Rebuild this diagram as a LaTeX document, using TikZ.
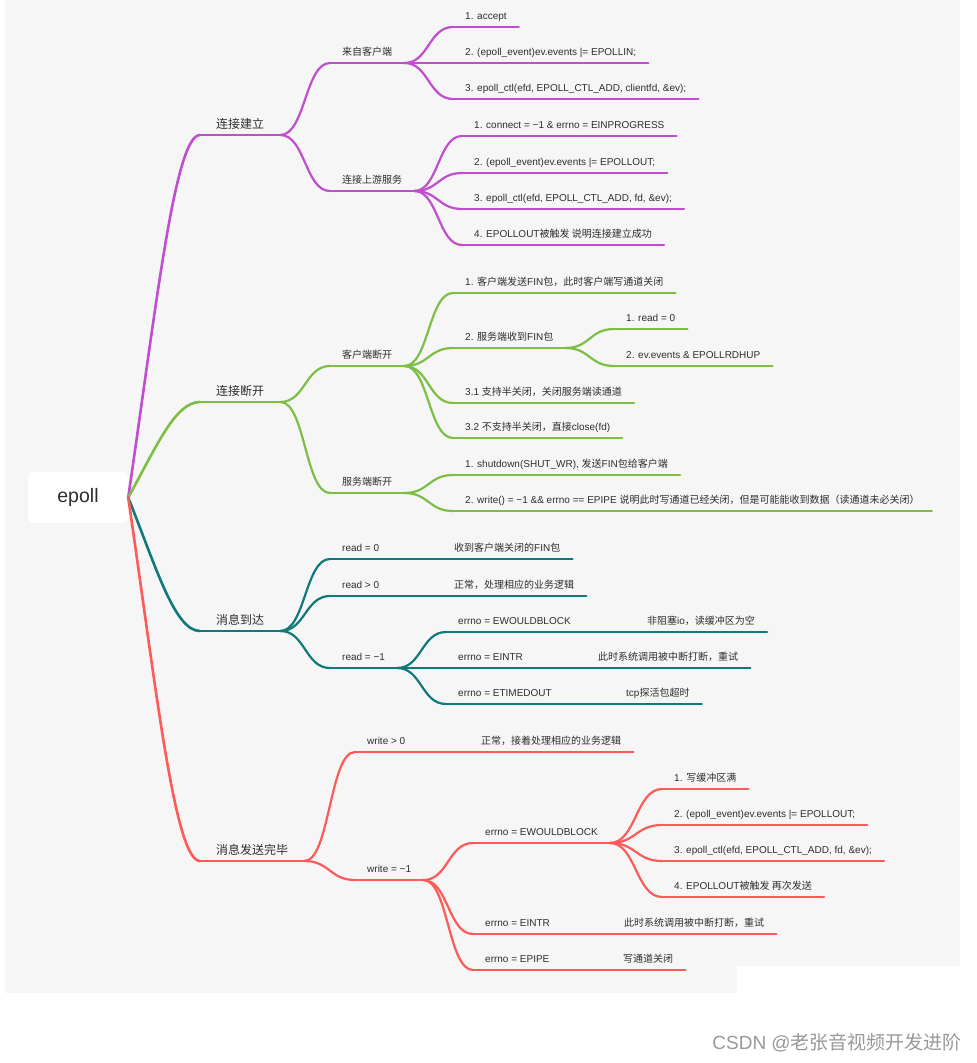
\documentclass[tikz,border=0pt]{standalone}
\usepackage{fontspec}
\setmainfont{Liberation Sans}
\newfontfamily\cjk{Noto Sans CJK SC}
\newcommand{\zh}[1]{{\cjk #1}}
\usetikzlibrary{calc}
\definecolor{bgc}{HTML}{F6F6F6}
\definecolor{txt}{HTML}{2E2E2E}
\definecolor{cpu}{RGB}{192,78,207}
\definecolor{cgr}{RGB}{125,190,69}
\definecolor{cte}{RGB}{16,121,122}
\definecolor{cre}{RGB}{255,90,90}
\definecolor{wmc}{HTML}{999999}
\newcommand{\rconn}[3]{\draw[#1] let \p1=(#2), \p2=(#3) in (\p1) .. controls ({\x1+0.39*(\x2-\x1)},{\y1+0.525*(\y2-\y1)}) and ({\x2-0.35*(\x2-\x1)},\y2) .. (\p2);}
\newcommand{\conn}[3]{\draw[#1] let \p1=(#2), \p2=(#3) in (\p1) .. controls ({0.5*\x1+0.5*\x2},\y1) and ({0.5*\x1+0.5*\x2},\y2) .. (\p2);}
\begin{document}
\begin{tikzpicture}[x=1pt,y=-1pt,
  lf/.style={text=txt, inner xsep=12pt, inner ysep=4.5pt, text height=8pt, text depth=2.5pt, anchor=south west, font=\fontsize{10}{12}\selectfont},
  lone/.style={text=txt, inner xsep=16pt, inner ysep=3pt, text height=10pt, text depth=3pt, anchor=south west, font=\fontsize{12}{14}\selectfont},
  rootbox/.style={fill=white, rounded corners=6pt, minimum width=100pt, minimum height=51pt, text=txt, font=\fontsize{19.5}{22}\selectfont},
  lk/.style={line width=2.2pt, line cap=round, draw=#1},
  rk/.style={line width=2.6pt, line cap=round, draw=#1},
]
\useasboundingbox (0,0) rectangle (977,1063);
\fill[white] (0,0) rectangle (977,1063);
\fill[bgc] (5,0) rectangle (960,993);
\fill[white] (737,966) rectangle (977,1063);

% root
\node[rootbox] (epoll) at (78,497.5) {epoll};

% purple
\node[lone] (est) at (200,135) {\zh{连接建立}};
\node[lf] (fc) at (330,63) {\zh{来自客户端}};
\node[lf] (up) at (330,191) {\zh{连接上游服务}};
\node[lf] (fc1) at (453,27) {1. accept};
\node[lf] (fc2) at (453,63) {2. (epoll\_event)ev.events |= EPOLLIN;};
\node[lf] (fc3) at (453,99) {3. epoll\_ctl(efd, EPOLL\_CTL\_ADD, clientfd, \&ev);};
\node[lf] (up1) at (462,136) {1. connect = −1 \& errno = EINPROGRESS};
\node[lf] (up2) at (462,173) {2. (epoll\_event)ev.events |= EPOLLOUT;};
\node[lf] (up3) at (462,209) {3. epoll\_ctl(efd, EPOLL\_CTL\_ADD, fd, \&ev);};
\node[lf] (up4) at (462,245) {4. EPOLLOUT\zh{被触发 说明连接建立成功}};

% green
\node[lone] (dis) at (200,402) {\zh{连接断开}};
\node[lf] (cd) at (330,366) {\zh{客户端断开}};
\node[lf] (sd) at (330,493) {\zh{服务端断开}};
\node[lf] (cd1) at (453,293) {1. \zh{客户端发送}FIN\zh{包，此时客户端写通道关闭}};
\node[lf] (cd2) at (453,348) {2. \zh{服务端收到}FIN\zh{包}};
\node[lf] (cd2a) at (614,329) {1. read = 0};
\node[lf] (cd2b) at (614,366) {2. ev.events \& EPOLLRDHUP};
\node[lf] (cd3) at (453,403) {3.1 \zh{支持半关闭，关闭服务端读通道}};
\node[lf] (cd4) at (453,438) {3.2 \zh{不支持半关闭，直接}close(fd)};
\node[lf] (sd1) at (453,475) {1. shutdown(SHUT\_WR), \zh{发送}FIN\zh{包给客户端}};
\node[lf] (sd2) at (453,511) {2. write() = −1 \&\& errno == EPIPE \zh{说明此时写通道已经关闭，但是可能能收到数据（读通道未必关闭）}};

% teal
\node[lone] (msg) at (200,631) {\zh{消息到达}};
\node[lf] (r0) at (330,559) {read = 0};
\node[lf] (r0c) at (442,559) {\zh{收到客户端关闭的}FIN\zh{包}};
\node[lf] (rp) at (330,596) {read > 0};
\node[lf] (rpc) at (442,596) {\zh{正常，处理相应的业务逻辑}};
\node[lf] (rm) at (330,668) {read = −1};
\node[lf] (e1) at (446,632) {errno = EWOULDBLOCK};
\node[lf] (e1c) at (635,632) {\zh{非阻塞}io\zh{，读缓冲区为空}};
\node[lf] (e2) at (446,668) {errno = EINTR};
\node[lf] (e2c) at (586,668) {\zh{此时系统调用被中断打断，重试}};
\node[lf] (e3) at (446,704) {errno = ETIMEDOUT};
\node[lf] (e3c) at (614,704) {tcp\zh{探活包超时}};

% red
\node[lone] (snd) at (200,861) {\zh{消息发送完毕}};
\node[lf] (wp) at (355,752) {write > 0};
\node[lf] (wpc) at (469,752) {\zh{正常，接着处理相应的业务逻辑}};
\node[lf] (wm) at (355,880) {write = −1};
\node[lf] (w1) at (473,843) {errno = EWOULDBLOCK};
\node[lf] (w1a) at (662,789) {1. \zh{写缓冲区满}};
\node[lf] (w1b) at (662,825) {2. (epoll\_event)ev.events |= EPOLLOUT;};
\node[lf] (w1c) at (662,861) {3. epoll\_ctl(efd, EPOLL\_CTL\_ADD, fd, \&ev);};
\node[lf] (w1d) at (662,897) {4. EPOLLOUT\zh{被触发 再次发送}};
\node[lf] (w2) at (473,934) {errno = EINTR};
\node[lf] (w2c) at (612,934) {\zh{此时系统调用被中断打断，重试}};
\node[lf] (w3) at (473,970) {errno = EPIPE};
\node[lf] (w3c) at (611,970) {\zh{写通道关闭}};

% underlines
\foreach \n in {est,fc,up,fc1,fc2,fc3,up1,up2,up3,up4}
  \draw[lk=cpu] (\n.south west) -- (\n.south east);
\foreach \n in {dis,cd,sd,cd1,cd2,cd2a,cd2b,cd3,cd4,sd1,sd2}
  \draw[lk=cgr] (\n.south west) -- (\n.south east);
\foreach \n in {msg,r0,r0c,rp,rpc,rm,e1,e1c,e2,e2c,e3,e3c}
  \draw[lk=cte] (\n.south west) -- (\n.south east);
\foreach \n in {snd,wp,wpc,wm,w1,w1a,w1b,w1c,w1d,w2,w2c,w3,w3c}
  \draw[lk=cre] (\n.south west) -- (\n.south east);

% root connectors
\rconn{rk=cpu}{epoll.east}{est.south west}
\rconn{rk=cgr}{epoll.east}{dis.south west}
\rconn{rk=cte}{epoll.east}{msg.south west}
\rconn{rk=cre}{epoll.east}{snd.south west}

% purple connectors
\conn{lk=cpu}{est.south east}{fc.south west}
\conn{lk=cpu}{est.south east}{up.south west}
\conn{lk=cpu}{fc.south east}{fc1.south west}
\conn{lk=cpu}{fc.south east}{fc2.south west}
\conn{lk=cpu}{fc.south east}{fc3.south west}
\conn{lk=cpu}{up.south east}{up1.south west}
\conn{lk=cpu}{up.south east}{up2.south west}
\conn{lk=cpu}{up.south east}{up3.south west}
\conn{lk=cpu}{up.south east}{up4.south west}

% green connectors
\conn{lk=cgr}{dis.south east}{cd.south west}
\conn{lk=cgr}{dis.south east}{sd.south west}
\conn{lk=cgr}{cd.south east}{cd1.south west}
\conn{lk=cgr}{cd.south east}{cd2.south west}
\conn{lk=cgr}{cd.south east}{cd3.south west}
\conn{lk=cgr}{cd.south east}{cd4.south west}
\conn{lk=cgr}{cd2.south east}{cd2a.south west}
\conn{lk=cgr}{cd2.south east}{cd2b.south west}
\conn{lk=cgr}{sd.south east}{sd1.south west}
\conn{lk=cgr}{sd.south east}{sd2.south west}

% teal connectors
\conn{lk=cte}{msg.south east}{r0.south west}
\conn{lk=cte}{msg.south east}{rp.south west}
\conn{lk=cte}{msg.south east}{rm.south west}
\conn{lk=cte}{r0.south east}{r0c.south west}
\conn{lk=cte}{rp.south east}{rpc.south west}
\conn{lk=cte}{rm.south east}{e1.south west}
\conn{lk=cte}{rm.south east}{e2.south west}
\conn{lk=cte}{rm.south east}{e3.south west}
\conn{lk=cte}{e1.south east}{e1c.south west}
\conn{lk=cte}{e2.south east}{e2c.south west}
\conn{lk=cte}{e3.south east}{e3c.south west}

% red connectors
\conn{lk=cre}{snd.south east}{wp.south west}
\conn{lk=cre}{snd.south east}{wm.south west}
\conn{lk=cre}{wp.south east}{wpc.south west}
\conn{lk=cre}{wm.south east}{w1.south west}
\conn{lk=cre}{wm.south east}{w2.south west}
\conn{lk=cre}{wm.south east}{w3.south west}
\conn{lk=cre}{w1.south east}{w1a.south west}
\conn{lk=cre}{w1.south east}{w1b.south west}
\conn{lk=cre}{w1.south east}{w1c.south west}
\conn{lk=cre}{w1.south east}{w1d.south west}
\conn{lk=cre}{w2.south east}{w2c.south west}
\conn{lk=cre}{w3.south east}{w3c.south west}

% watermark
\node[anchor=east, text=wmc, inner sep=0pt, font=\fontsize{19}{22}\selectfont] (wmk) at (962,1043) {CSDN @\zh{老张音视频开发进阶}};
\end{tikzpicture}
\end{document}
